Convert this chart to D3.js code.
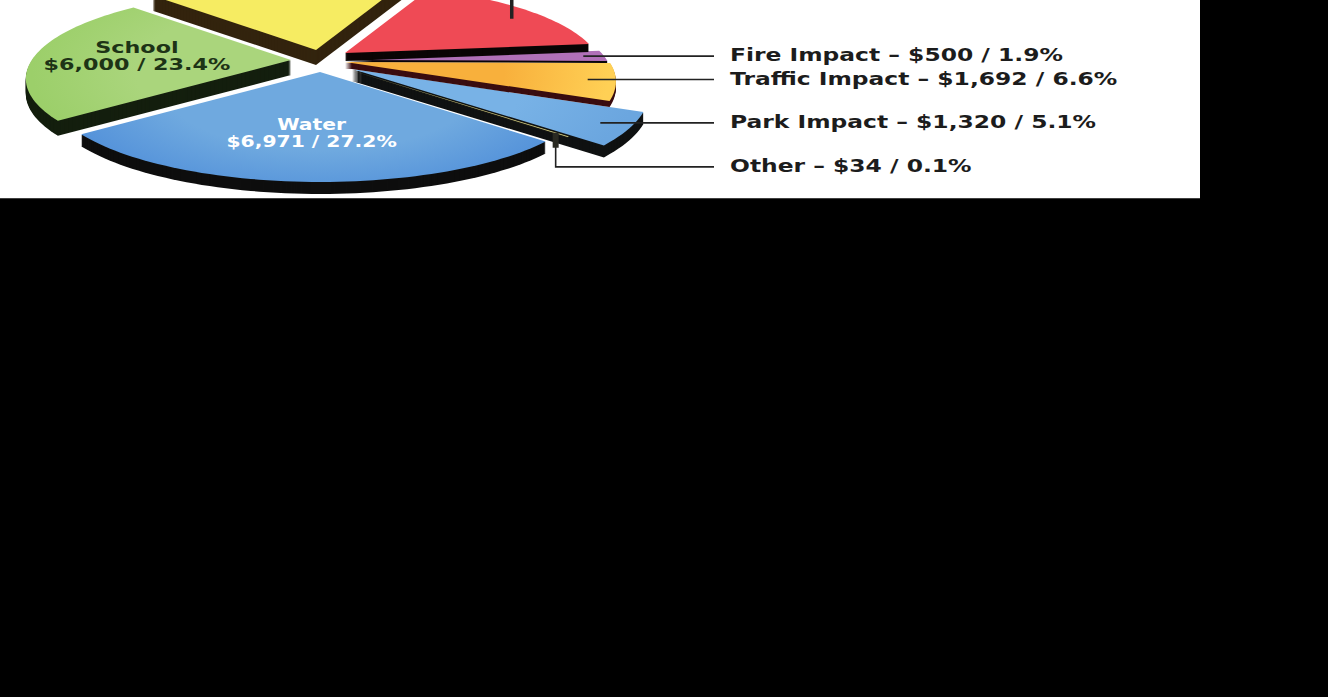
<!DOCTYPE html>
<html>
  <head>
    <title>Fee Breakdown Pie</title>
    <script src="https://d3js.org/d3.v7.min.js"></script>
    <style>
      body { margin: 0; background: #000; }
      svg { display: block; }
      text { font-family: "DejaVu Sans", sans-serif; font-weight: bold; }
      .outside { font-size: 18px; fill: #1c1c1c; }
      .inside { text-anchor: middle; }
      .leader { stroke: #222; fill: none; stroke-width: 1.6; }
    </style>
  </head>
  <body>
    <svg width="1328" height="697"></svg>
    <script>
      // clockwise, starting from the red slice. The top two labels are cut off
      // in the picture, their values are what is left of the total.
      const categories = ["Red", "Fire Impact", "Traffic Impact", "Park Impact", "Other", "Water", "School", "Yellow"];
      const values = [4300, 500, 1692, 1320, 34, 6971, 6000, 4813];
      const percents = [16.8, 1.9, 6.6, 5.1, 0.1, 27.2, 23.4, 18.8];

      const outsideLabels = ["Fire Impact", "Traffic Impact", "Park Impact", "Other"];
      const insideLabels = ["School", "Water"];

      // where each slice was pulled out to, and how it is painted
      const sliceStyle = {
        "Red":            {x: 345, y: 53, depth: 8,  r: 0.93, top: "#ef4a55", rim: "#ef4a55", side: "#0a0505"},
        "Fire Impact":    {x: 345, y: 60, depth: 2,  r: 0.97, top: "#b070b8", rim: "#b070b8", side: "#0a0508"},
        "Traffic Impact": {x: 345, y: 62, depth: 6,  r: 0.98, top: "#f8b03c", rim: "#ffd055", side: "#3a0d10"},
        "Park Impact":    {x: 352, y: 69, depth: 12, r: 1.07, top: "#78b2e6", rim: "#6ba6df", side: "#101212"},
        "Other":          {x: 350, y: 70, depth: 1,  r: 0.95, top: "#d8d080", rim: "#d8d080", side: "#1a1a16"},
        "Water":          {x: 320, y: 72, depth: 12, r: 0.98, top: "#6fa9df", rim: "#5593da", side: "#0e0e0e"},
        "School":         {x: 291, y: 60, depth: 15, r: 0.96, top: "#aad57c", rim: "#9ccf6a", side: "#141f0e"},
        "Yellow":         {x: 316, y: 50, depth: 15, r: 1.0,  top: "#f6ec62", rim: "#f6ec62", side: "#33240e"}
      };

      // bottom of the stack first
      const paintOrder = ["Yellow", "School", "Water", "Park Impact", "Other", "Traffic Impact", "Fire Impact", "Red"];

      // the pie is seen in perspective: near side bigger, far side pressed flat
      const radius = 270;
      const flat = 88;
      const tilt = 0.22;
      const labelX = 730;
      const leaderEnd = 714;
      const wide = 1.3;

      function project(d, share, a) {
        const u = Math.sin(a) * share * d.st.r;
        const v = -Math.cos(a) * share * d.st.r;
        const w = 1 - tilt * v;
        return [d.st.x + radius * u / w, d.st.y + flat * v / w];
      }

      const svg = d3.select("svg");
      const defs = svg.append("defs");

      defs.append("clipPath").attr("id", "page")
        .append("rect").attr("width", 1200).attr("height", 198.5);

      const page = svg.append("g").attr("clip-path", "url(#page)");
      page.append("rect").attr("width", 1200).attr("height", 198.5).attr("fill", "#fff");

      const pie = d3.pie().sort(null).startAngle(23.2 * Math.PI / 180).endAngle(383.2 * Math.PI / 180);
      const slices = pie(values).map((d, i) => ({...d, name: categories[i], pct: percents[i], st: sliceStyle[categories[i]]}));
      const byName = new Map(slices.map(d => [d.name, d]));

      slices.forEach((d, i) => {
        const grad = defs.append("radialGradient").attr("id", "grad" + i)
          .attr("gradientUnits", "userSpaceOnUse")
          .attr("cx", 0).attr("cy", 0).attr("r", radius * d.st.r)
          .attr("gradientTransform", `translate(${d.st.x},${d.st.y + 12}) scale(1,0.42)`);
        grad.append("stop").attr("offset", "0.6").attr("stop-color", d.st.top);
        grad.append("stop").attr("offset", "1").attr("stop-color", d.st.rim);
      });

      const line = d3.line();

      function wedge(d) {
        const step = 1.5 * Math.PI / 180;
        const angles = d3.range(d.startAngle, d.endAngle, step).concat(d.endAngle);
        return line([[d.st.x, d.st.y]].concat(angles.map(a => project(d, 1, a)))) + "Z";
      }

      const sliceG = page.selectAll(".slice")
        .data(paintOrder.map(n => byName.get(n)))
        .enter().append("g")
          .attr("class", "slice");

      // the thickness is just the wedge stacked downwards in the side colour
      sliceG.selectAll(".side")
        .data(d => d3.range(d.st.depth, 0, -1).map(k => ({d, k})))
        .enter().append("path")
          .attr("class", "side")
          .attr("d", e => wedge(e.d))
          .attr("fill", e => e.d.st.side)
          .attr("transform", e => `translate(0,${e.k})`);

      sliceG.append("path")
        .attr("d", wedge)
        .attr("fill", d => "url(#grad" + slices.indexOf(d) + ")");

      function onSlice(d, share) {
        return project(d, share, (d.startAngle + d.endAngle) / 2);
      }

      const leaderShare = {"Fire Impact": 0.92, "Traffic Impact": 0.9, "Park Impact": 0.91, "Other": 0.95};
      const otherDrop = 34;

      function labelY(d) {
        const p = onSlice(d, leaderShare[d.name]);
        return d.name === "Other" ? p[1] + otherDrop : p[1];
      }

      page.selectAll(".leader")
        .data(outsideLabels.map(n => byName.get(n)))
        .enter().append("path")
          .attr("class", "leader")
          .attr("d", d => {
            const p = onSlice(d, leaderShare[d.name]);
            if (d.name === "Other") {
              return line([[p[0], p[1] + 14], [p[0], labelY(d)], [leaderEnd, labelY(d)]]);
            }
            return line([p, [leaderEnd, p[1]]]);
          });

      // short thick stalk under the thin Other slice
      const otherPoint = onSlice(byName.get("Other"), leaderShare["Other"]);
      page.append("path").attr("stroke", "#2a2a22").attr("stroke-width", 6)
        .attr("d", line([otherPoint, [otherPoint[0], otherPoint[1] + 15]]));

      // the red slice's leader runs off the top
      const redPoint = onSlice(byName.get("Red"), 0.92);
      page.append("path").attr("stroke", "#222").attr("stroke-width", 3.5)
        .attr("d", line([[redPoint[0], redPoint[1] + 6], [redPoint[0], 0]]));

      const money = d3.format("$,");

      page.selectAll(".outside")
        .data(outsideLabels.map(n => byName.get(n)))
        .enter().append("text")
          .attr("class", "outside")
          .attr("transform", d => `translate(${labelX},${labelY(d) + 5}) scale(${wide},1)`)
          .text(d => `${d.name} – ${money(d.value)} / ${d.pct}%`);

      const inside = page.selectAll(".inside")
        .data(insideLabels.map(n => byName.get(n)))
        .enter().append("text")
          .attr("class", "inside")
          .attr("font-size", d => d.name === "Water" ? 16 : 16.5)
          .attr("fill", d => d.name === "Water" ? "#fff" : "#1d3316")
          .attr("transform", d => {
            const p = d.name === "Water" ? onSlice(d, 0.66) : onSlice(d, 0.6);
            const nudge = d.name === "Water" ? 0 : 5;
            const stretch = d.name === "Water" ? 1.27 : 1.35;
            return `translate(${p[0]},${p[1] + nudge}) scale(${stretch},1)`;
          });
      inside.append("tspan").attr("x", 0).attr("y", -8.5).text(d => d.name);
      inside.append("tspan").attr("x", 0).attr("y", 8.5).text(d => `${money(d.value)} / ${d.pct}%`);
    </script>
  </body>
</html>
